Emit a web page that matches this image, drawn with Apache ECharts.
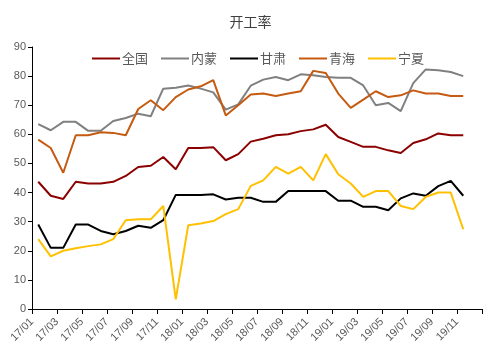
<!DOCTYPE html>
<html>
<head>
<meta charset="utf-8">
<script src="https://cdn.jsdelivr.net/npm/echarts@6/dist/echarts.min.js"></script>
<style>html,body{margin:0;padding:0;background:#fff}#c{width:501px;height:357px}</style>
</head>
<body>
<div id="c"></div>
<script>
const categories = ['17/01','17/02','17/03','17/04','17/05','17/06','17/07','17/08','17/09','17/10','17/11','17/12',
  '18/01','18/02','18/03','18/04','18/05','18/06','18/07','18/08','18/09','18/10','18/11','18/12',
  '19/01','19/02','19/03','19/04','19/05','19/06','19/07','19/08','19/09','19/10','19/11','19/12'];
const quanguo = [43.7,38.9,37.8,43.7,43.1,43.1,43.7,45.7,48.8,49.2,52.2,48.0,55.3,55.3,55.6,51.1,53.2,57.5,58.5,59.7,60.0,61.1,61.7,63.3,59.1,57.4,55.7,55.7,54.5,53.6,57.0,58.3,60.3,59.7,59.7];
const neimeng = [63.5,61.4,64.3,64.3,61.2,61.2,64.6,65.6,67.1,66.2,75.7,76.0,76.8,75.7,74.4,68.5,70.3,76.7,78.8,79.7,78.6,80.6,80.3,79.7,79.4,79.4,76.8,70.0,70.8,68.0,77.6,82.3,82.0,81.4,80.0];
const gansu = [29.0,21.0,21.0,29.0,29.0,26.8,25.7,26.8,28.6,27.9,30.5,39.2,39.2,39.2,39.4,37.6,38.2,38.2,36.8,36.8,40.5,40.5,40.5,40.5,37.2,37.2,35.1,35.1,33.9,38.0,39.7,38.9,42.2,44.0,38.9];
const qinghai = [58.2,55.3,46.8,59.7,59.7,60.7,60.5,59.7,68.7,71.7,68.3,72.8,75.4,76.5,78.6,66.5,70.0,73.7,74.0,73.2,74.0,74.8,81.8,81.1,74.0,69.1,71.9,74.8,72.8,73.4,75.1,74.0,74.0,73.2,73.2];
const ningxia = [24.0,18.1,20.0,20.9,21.6,22.2,24.0,30.5,30.8,30.8,35.4,3.3,28.8,29.4,30.2,32.6,34.3,42.3,44.2,48.8,46.5,48.8,44.2,53.2,46.3,43.1,38.5,40.5,40.5,35.4,34.3,38.5,40.0,40.0,27.4];
const yTicks = [0,10,20,30,40,50,60,70,80,90];

const names = ['全国','内蒙','甘肃','青海','宁夏'];
const values = [quanguo, neimeng, gansu, qinghai, ningxia];
const colors = ['#8B0000','#808080','#000000','#C55A11','#FFC000'];

const chart = echarts.init(document.getElementById('c'));
chart.setOption({
  animation: false,
  title: { text: '开工率', left: 'center', top: 10, textStyle: { fontSize: 14, fontWeight: 'normal', color: '#404040', fontFamily: 'Noto Sans CJK SC' } },
  legend: {
    top: 47, left: 87, icon: 'rect', itemWidth: 28, itemHeight: 2, itemGap: 13,
    textStyle: { fontSize: 13, color: '#595959', fontFamily: 'Noto Sans CJK SC', padding: [0,0,0,-3] },
    data: names
  },
  grid: { left: 32, right: 19, top: 47, bottom: 48 },
  xAxis: {
    type: 'value', min: 0, max: categories.length, interval: 2,
    axisLine: { show: true, lineStyle: { color: '#000', width: 1 } },
    axisTick: { show: true, length: 5, lineStyle: { color: '#000' } },
    splitLine: { show: false },
    axisLabel: { rotate: 45, fontSize: 11, color: '#595959', margin: 11, fontFamily: 'Liberation Sans',
      formatter: v => categories[v] || '' }
  },
  yAxis: {
    type: 'value', min: yTicks[0], max: yTicks[yTicks.length-1], interval: 10,
    axisLine: { show: true, lineStyle: { color: '#000', width: 1 } },
    axisTick: { show: true, length: 4, lineStyle: { color: '#000' } },
    splitLine: { show: false },
    axisLabel: { fontSize: 11, color: '#595959', margin: 6, fontFamily: 'Liberation Sans' }
  },
  series: names.map((n, k) => ({
    name: n, type: 'line', symbol: 'none',
    lineStyle: { width: 2, color: colors[k] }, itemStyle: { color: colors[k] },
    data: values[k].map((v, i) => [i + 0.5, v])
  }))
});
</script>
</body>
</html>
